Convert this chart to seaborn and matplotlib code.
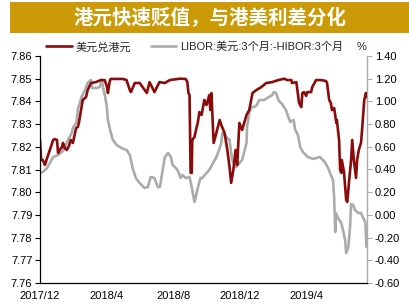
import matplotlib
matplotlib.use("Agg")
import matplotlib.pyplot as plt
from matplotlib.ticker import FuncFormatter, FixedLocator
from matplotlib.patches import Rectangle
import seaborn as sns
import pandas as pd

# ---- data ----
usdhkd_dates = [
    "2017-12-01", "2017-12-03", "2017-12-06", "2017-12-10", "2017-12-14", "2017-12-19", "2017-12-25", "2017-12-28",
    "2018-01-01", "2018-01-03", "2018-01-06", "2018-01-10", "2018-01-12", "2018-01-15", "2018-01-19", "2018-01-23",
    "2018-01-26", "2018-01-30", "2018-02-03", "2018-02-05", "2018-02-08", "2018-02-10", "2018-02-14", "2018-02-17",
    "2018-02-23", "2018-02-26", "2018-03-04", "2018-03-13", "2018-03-22", "2018-03-29", "2018-04-02", "2018-04-04",
    "2018-04-07", "2018-04-09", "2018-05-01", "2018-05-08", "2018-05-14", "2018-05-16", "2018-05-23", "2018-06-01",
    "2018-06-10", "2018-06-14", "2018-06-19", "2018-06-28", "2018-07-07", "2018-07-17", "2018-07-26", "2018-08-13",
    "2018-08-24", "2018-08-27", "2018-08-29", "2018-08-31", "2018-09-02", "2018-09-04", "2018-09-05", "2018-09-09",
    "2018-09-13", "2018-09-15", "2018-09-18", "2018-09-22", "2018-09-27", "2018-10-01", "2018-10-06", "2018-10-08",
    "2018-10-10", "2018-10-14", "2018-10-19", "2018-10-25", "2018-10-28", "2018-11-03", "2018-11-08", "2018-11-12",
    "2018-11-15", "2018-11-19", "2018-11-23", "2018-11-26", "2018-11-30", "2018-12-05", "2018-12-13", "2018-12-18",
    "2018-12-24", "2018-12-31", "2019-01-09", "2019-01-18", "2019-01-29", "2019-02-09", "2019-02-20", "2019-02-25",
    "2019-03-05", "2019-03-06", "2019-03-14", "2019-03-19", "2019-03-23", "2019-03-25", "2019-03-28", "2019-04-01",
    "2019-04-03", "2019-04-10", "2019-04-12", "2019-04-19", "2019-04-28", "2019-05-07", "2019-05-09", "2019-05-13",
    "2019-05-16", "2019-05-18", "2019-05-22", "2019-05-26", "2019-05-27", "2019-05-31", "2019-06-02", "2019-06-04",
    "2019-06-05", "2019-06-09", "2019-06-13", "2019-06-15", "2019-06-18", "2019-06-22", "2019-06-24", "2019-06-27",
    "2019-07-01", "2019-07-03", "2019-07-06", "2019-07-10", "2019-07-12", "2019-07-16", "2019-07-19", "2019-07-21",
]
usdhkd = [
    7.8230, 7.8142, 7.8142, 7.8120, 7.8151, 7.8186, 7.8230, 7.8234,
    7.8230, 7.8173, 7.8186, 7.8199, 7.8217, 7.8195, 7.8186, 7.8204,
    7.8230, 7.8217, 7.8261, 7.8283, 7.8287, 7.8305, 7.8362, 7.8406,
    7.8419, 7.8450, 7.8481, 7.8485, 7.8494, 7.8494, 7.8468, 7.8437,
    7.8485, 7.8499, 7.8499, 7.8494, 7.8450, 7.8441, 7.8481, 7.8481,
    7.8450, 7.8437, 7.8485, 7.8441, 7.8485, 7.8481, 7.8494, 7.8500,
    7.8499, 7.8485, 7.8437, 7.8428, 7.8085, 7.8085, 7.8230, 7.8243,
    7.8287, 7.8305, 7.8353, 7.8340, 7.8406, 7.8384, 7.8428, 7.8362,
    7.8437, 7.8217, 7.8261, 7.8318, 7.8296, 7.8261, 7.8186, 7.8111,
    7.8041, 7.8098, 7.8186, 7.8120, 7.8305, 7.8274, 7.8340, 7.8362,
    7.8437, 7.8450, 7.8463, 7.8481, 7.8485, 7.8494, 7.8500, 7.8494,
    7.8494, 7.8481, 7.8485, 7.8393, 7.8375, 7.8437, 7.8441, 7.8424,
    7.8441, 7.8441, 7.8463, 7.8494, 7.8494, 7.8490, 7.8481, 7.8406,
    7.8393, 7.8362, 7.8371, 7.8305, 7.8318, 7.8230, 7.8098, 7.8085,
    7.8142, 7.8089, 7.7966, 7.7957, 7.8041, 7.8142, 7.8230, 7.8142,
    7.8063, 7.8142, 7.8186, 7.8217, 7.8274, 7.8406, 7.8437, 7.8419,
]

spread_dates = [
    "2017-12-01", "2017-12-06", "2017-12-14", "2017-12-19", "2017-12-25", "2018-01-03", "2018-01-10", "2018-01-15",
    "2018-01-21", "2018-01-28", "2018-01-30", "2018-02-06", "2018-02-08", "2018-02-12", "2018-02-15", "2018-02-21",
    "2018-02-26", "2018-03-04", "2018-03-06", "2018-03-15", "2018-03-20", "2018-03-24", "2018-03-26", "2018-03-30",
    "2018-04-02", "2018-04-04", "2018-04-08", "2018-04-13", "2018-04-20", "2018-04-29", "2018-05-08", "2018-05-14",
    "2018-05-19", "2018-05-25", "2018-06-01", "2018-06-10", "2018-06-16", "2018-06-21", "2018-06-28", "2018-07-04",
    "2018-07-08", "2018-07-13", "2018-07-17", "2018-07-23", "2018-07-28", "2018-07-31", "2018-08-04", "2018-08-09",
    "2018-08-15", "2018-08-18", "2018-08-24", "2018-08-31", "2018-09-02", "2018-09-05", "2018-09-09", "2018-09-11",
    "2018-09-14", "2018-09-20", "2018-09-23", "2018-10-01", "2018-10-06", "2018-10-11", "2018-10-19", "2018-10-24",
    "2018-10-28", "2018-10-30", "2018-11-06", "2018-11-12", "2018-11-15", "2018-11-17", "2018-11-24", "2018-11-30",
    "2018-12-05", "2018-12-13", "2018-12-14", "2018-12-18", "2018-12-22", "2018-12-27", "2019-01-01", "2019-01-05",
    "2019-01-14", "2019-01-23", "2019-01-29", "2019-02-01", "2019-02-05", "2019-02-10", "2019-02-16", "2019-02-23",
    "2019-02-28", "2019-03-03", "2019-03-09", "2019-03-12", "2019-03-17", "2019-03-21", "2019-03-26", "2019-04-04",
    "2019-04-14", "2019-04-19", "2019-04-26", "2019-05-05", "2019-05-11", "2019-05-16", "2019-05-20", "2019-05-22",
    "2019-05-24", "2019-05-25", "2019-05-29", "2019-06-04", "2019-06-08", "2019-06-11", "2019-06-13", "2019-06-17",
    "2019-06-20", "2019-06-22", "2019-06-26", "2019-06-29", "2019-07-05", "2019-07-10", "2019-07-14", "2019-07-18",
    "2019-07-20",
]
spread = [
    0.369, 0.378, 0.413, 0.457, 0.510, 0.528, 0.554, 0.589,
    0.660, 0.722, 0.766, 0.819, 0.924, 0.995, 1.039, 1.100,
    1.162, 1.189, 1.118, 1.118, 1.127, 1.189, 1.127, 1.039,
    0.951, 0.836, 0.748, 0.660, 0.616, 0.589, 0.572, 0.528,
    0.413, 0.325, 0.281, 0.237, 0.246, 0.334, 0.325, 0.246,
    0.246, 0.396, 0.510, 0.545, 0.510, 0.440, 0.422, 0.396,
    0.325, 0.352, 0.325, 0.334, 0.290, 0.219, 0.114, 0.149,
    0.219, 0.325, 0.325, 0.369, 0.396, 0.440, 0.510, 0.572,
    0.633, 0.722, 0.686, 0.660, 0.545, 0.484, 0.422, 0.457,
    0.484, 0.633, 0.774, 0.898, 0.951, 0.951, 0.968, 1.012,
    1.012, 1.039, 1.056, 1.083, 1.074, 1.004, 0.977, 0.924,
    0.854, 0.819, 0.836, 0.748, 0.704, 0.598, 0.554, 0.510,
    0.493, 0.501, 0.510, 0.466, 0.413, 0.352, 0.307, 0.158,
    -0.151, 0.017, -0.027, -0.071, -0.151, -0.221, -0.336, -0.283,
    -0.107, 0.096, 0.087, 0.043, 0.017, 0.017, -0.027, -0.063,
    -0.280,
]

left_ticks = [7.76, 7.77, 7.78, 7.79, 7.80, 7.81, 7.82, 7.83, 7.84, 7.85, 7.86]
right_ticks = [-0.60, -0.40, -0.20, 0.00, 0.20, 0.40, 0.60, 0.80, 1.00, 1.20, 1.40]
x_tick_dates = ["2017-12-01", "2018-04-01", "2018-08-01", "2018-12-01", "2019-04-01"]
x_tick_labels = ["2017/12", "2018/4", "2018/8", "2018/12", "2019/4"]

title_text = "港元快速贬值，与港美利差分化"
label_red = "美元兑港元"
label_gray = "LIBOR:美元:3个月:-HIBOR:3个月"

# ---- build frames ----
df_red = pd.DataFrame({"date": pd.to_datetime(usdhkd_dates), "value": usdhkd})
df_gray = pd.DataFrame({"date": pd.to_datetime(spread_dates), "value": spread})

sns.set_theme(style="white")
plt.rcParams["font.family"] = ["Liberation Sans", "Noto Sans CJK SC", "DejaVu Sans"]

RED = "#8B0A0A"
GRAY = "#ABABAB"

fig = plt.figure(figsize=(4.10, 3.08), dpi=100)
fig.patch.set_facecolor("white")

# title banner
fig.patches.append(Rectangle((10 / 410, 1 - 33 / 308), 400 / 410, 31 / 308,
                             transform=fig.transFigure, facecolor="#CC9A06",
                             edgecolor="none", zorder=0))
fig.text(0.512, 1 - 18 / 308, title_text, color="white", fontsize=14,
         fontweight="bold", ha="center", va="center",
         family=["Noto Sans CJK SC", "DejaVu Sans"])

ax = fig.add_axes([40 / 410, 1 - 283 / 308, 327 / 410, 227 / 308])
ax2 = ax.twinx()

sns.lineplot(data=df_gray, x="date", y="value", ax=ax2, color=GRAY, linewidth=1.9,
             label=label_gray, legend=False)
sns.lineplot(data=df_red, x="date", y="value", ax=ax, color=RED, linewidth=1.9,
             label=label_red, legend=False)

ax.set_zorder(ax2.get_zorder() + 1)
ax.patch.set_visible(False)

ax.set_xlim(pd.Timestamp("2017-12-01"), pd.Timestamp("2019-07-21"))
ax.set_ylim(7.76, 7.86)
ax2.set_ylim(-0.60, 1.40)

ax.set_xticks(pd.to_datetime(x_tick_dates))
ax.set_xticklabels(x_tick_labels)
ax.yaxis.set_major_locator(FixedLocator(left_ticks))
ax.yaxis.set_major_formatter(FuncFormatter(lambda v, p: f"{v:.2f}"))
ax2.yaxis.set_major_locator(FixedLocator(right_ticks))
ax2.yaxis.set_major_formatter(FuncFormatter(lambda v, p: f"{v:.2f}"))

for a in (ax, ax2):
    a.set_xlabel("")
    a.set_ylabel("")
    a.grid(False)

ax.tick_params(axis="x", length=0, pad=6, labelsize=8, colors="black")
ax.tick_params(axis="y", direction="out", length=3.5, width=0.8, pad=2,
               labelsize=8, colors="black", left=True)
ax2.tick_params(axis="y", direction="out", length=3.5, width=0.8, pad=2,
                labelsize=8, color=GRAY, labelcolor="black", right=True)

for s in ("top", "right"):
    ax.spines[s].set_visible(False)
ax.spines["left"].set_color("black")
ax.spines["bottom"].set_color("black")
ax.spines["left"].set_linewidth(0.9)
ax.spines["bottom"].set_linewidth(0.9)
for s in ("top", "left", "bottom"):
    ax2.spines[s].set_visible(False)
ax2.spines["right"].set_color(GRAY)
ax2.spines["right"].set_linewidth(1.0)

h1, l1 = ax.get_legend_handles_labels()
h2, l2 = ax2.get_legend_handles_labels()
fig.legend(h1 + h2, l1 + l2, loc="center left", bbox_to_anchor=(46 / 410, 1 - 47 / 308),
           ncol=2, frameon=False, fontsize=8, handlelength=2.3,
           handletextpad=0.4, columnspacing=1.7, borderaxespad=0, borderpad=0)

fig.text(362 / 410, 1 - 47 / 308, "%", fontsize=8, ha="center", va="center")

fig.savefig("out.png", dpi=100)
